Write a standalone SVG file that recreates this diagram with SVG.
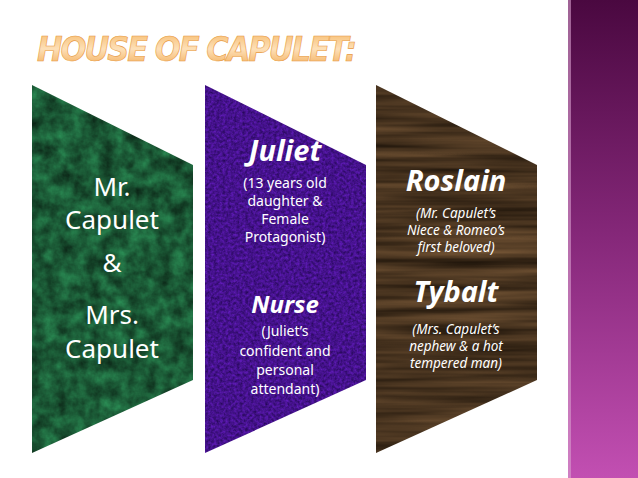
<svg xmlns="http://www.w3.org/2000/svg" width="638" height="478" viewBox="0 0 638 478">
<defs>
<linearGradient id="stripe" x1="0" y1="0" x2="0" y2="1"><stop offset="0" stop-color="#4a0840"/><stop offset="0.5" stop-color="#86287a"/><stop offset="1" stop-color="#c24fb2"/></linearGradient>
<linearGradient id="title" x1="0" y1="0" x2="0" y2="1"><stop offset="0" stop-color="#f6b866"/><stop offset="0.5" stop-color="#fde0b8"/><stop offset="1" stop-color="#f2a850"/></linearGradient>
<filter id="tGreen" x="0" y="0" width="1" height="1" color-interpolation-filters="sRGB"><feTurbulence type="fractalNoise" baseFrequency="0.07" numOctaves="4" seed="3"/><feColorMatrix type="matrix" values="0.15 0 0 0 0.03  0.5 0 0 0 0.1  0.3 0 0 0 0.06  0 0 0 0 1"/><feComposite in2="SourceGraphic" operator="in"/></filter>
<filter id="tPurple" x="0" y="0" width="1" height="1" color-interpolation-filters="sRGB"><feTurbulence type="fractalNoise" baseFrequency="0.35" numOctaves="3" seed="5"/><feColorMatrix type="matrix" values="0.3 0 0 0 0.12  0.1 0 0 0 0.02  0.5 0 0 0 0.3  0 0 0 0 1"/><feComposite in2="SourceGraphic" operator="in"/></filter>
<filter id="tWood" x="0" y="0" width="1" height="1" color-interpolation-filters="sRGB"><feTurbulence type="fractalNoise" baseFrequency="0.005 0.12" numOctaves="3" seed="2"/><feColorMatrix type="matrix" values="0.4 0 0 0 0.08  0.3 0 0 0 0.05  0.2 0 0 0 0.02  0 0 0 0 1"/><feComposite in2="SourceGraphic" operator="in"/></filter>
<style>
.w{fill:#fff;font-family:"Noto Sans","Open Sans",sans-serif;text-anchor:middle}
.big{font-size:26px}
.hd{font-size:29px;font-weight:bold;font-style:italic}
.sm{font-size:14px}
.it{font-size:13.5px;font-style:italic}
</style>
</defs>
<rect width="638" height="478" fill="#fff"/>
<rect x="568" y="0" width="70" height="478" fill="url(#stripe)"/>
<rect x="568" y="0" width="3" height="478" fill="#d9a0cf" opacity="0.6"/>
<text x="37" y="61" font-family="'DejaVu Sans Condensed','DejaVu Sans',sans-serif" font-weight="bold" font-style="italic" font-size="34" fill="url(#title)" stroke="#e89a40" stroke-width="0.6" textLength="320">HOUSE OF CAPULET:</text>
<g id="node-parents">
<polygon points="32,85 193,165 193,380 32,453" fill="#1e5a34" filter="url(#tGreen)"/>
<text class="w big" x="112" y="196">Mr.</text>
<text class="w big" x="112" y="229">Capulet</text>
<text class="w big" x="112" y="272">&amp;</text>
<text class="w big" x="112" y="324">Mrs.</text>
<text class="w big" x="112" y="358">Capulet</text>
</g>
<g id="node-juliet-nurse">
<polygon points="205,85 366,165 366,380 205,453" fill="#4a1a8a" filter="url(#tPurple)"/>
<text class="w hd" x="285" y="161">Juliet</text>
<text class="w sm" x="285" y="188">(13 years old</text>
<text class="w sm" x="285" y="206">daughter &amp;</text>
<text class="w sm" x="285" y="224">Female</text>
<text class="w sm" x="285" y="242">Protagonist)</text>
<text class="w hd" x="285" y="313" style="font-size:24px">Nurse</text>
<text class="w sm" x="285" y="336">(Juliet’s</text>
<text class="w sm" x="285" y="356">confident and</text>
<text class="w sm" x="285" y="375">personal</text>
<text class="w sm" x="285" y="394">attendant)</text>
</g>
<g id="node-roslain-tybalt">
<polygon points="376,85 537,165 537,380 376,453" fill="#4a3420" filter="url(#tWood)"/>
<text class="w hd" x="456" y="191">Roslain</text>
<text class="w it" x="456" y="218">(Mr. Capulet’s</text>
<text class="w it" x="456" y="235">Niece &amp; Romeo’s</text>
<text class="w it" x="456" y="252">first beloved)</text>
<text class="w hd" x="456" y="302">Tybalt</text>
<text class="w it" x="456" y="334">(Mrs. Capulet’s</text>
<text class="w it" x="456" y="351">nephew &amp; a hot</text>
<text class="w it" x="456" y="368">tempered man)</text>
</g>
<g id="connectors"/>
</svg>
